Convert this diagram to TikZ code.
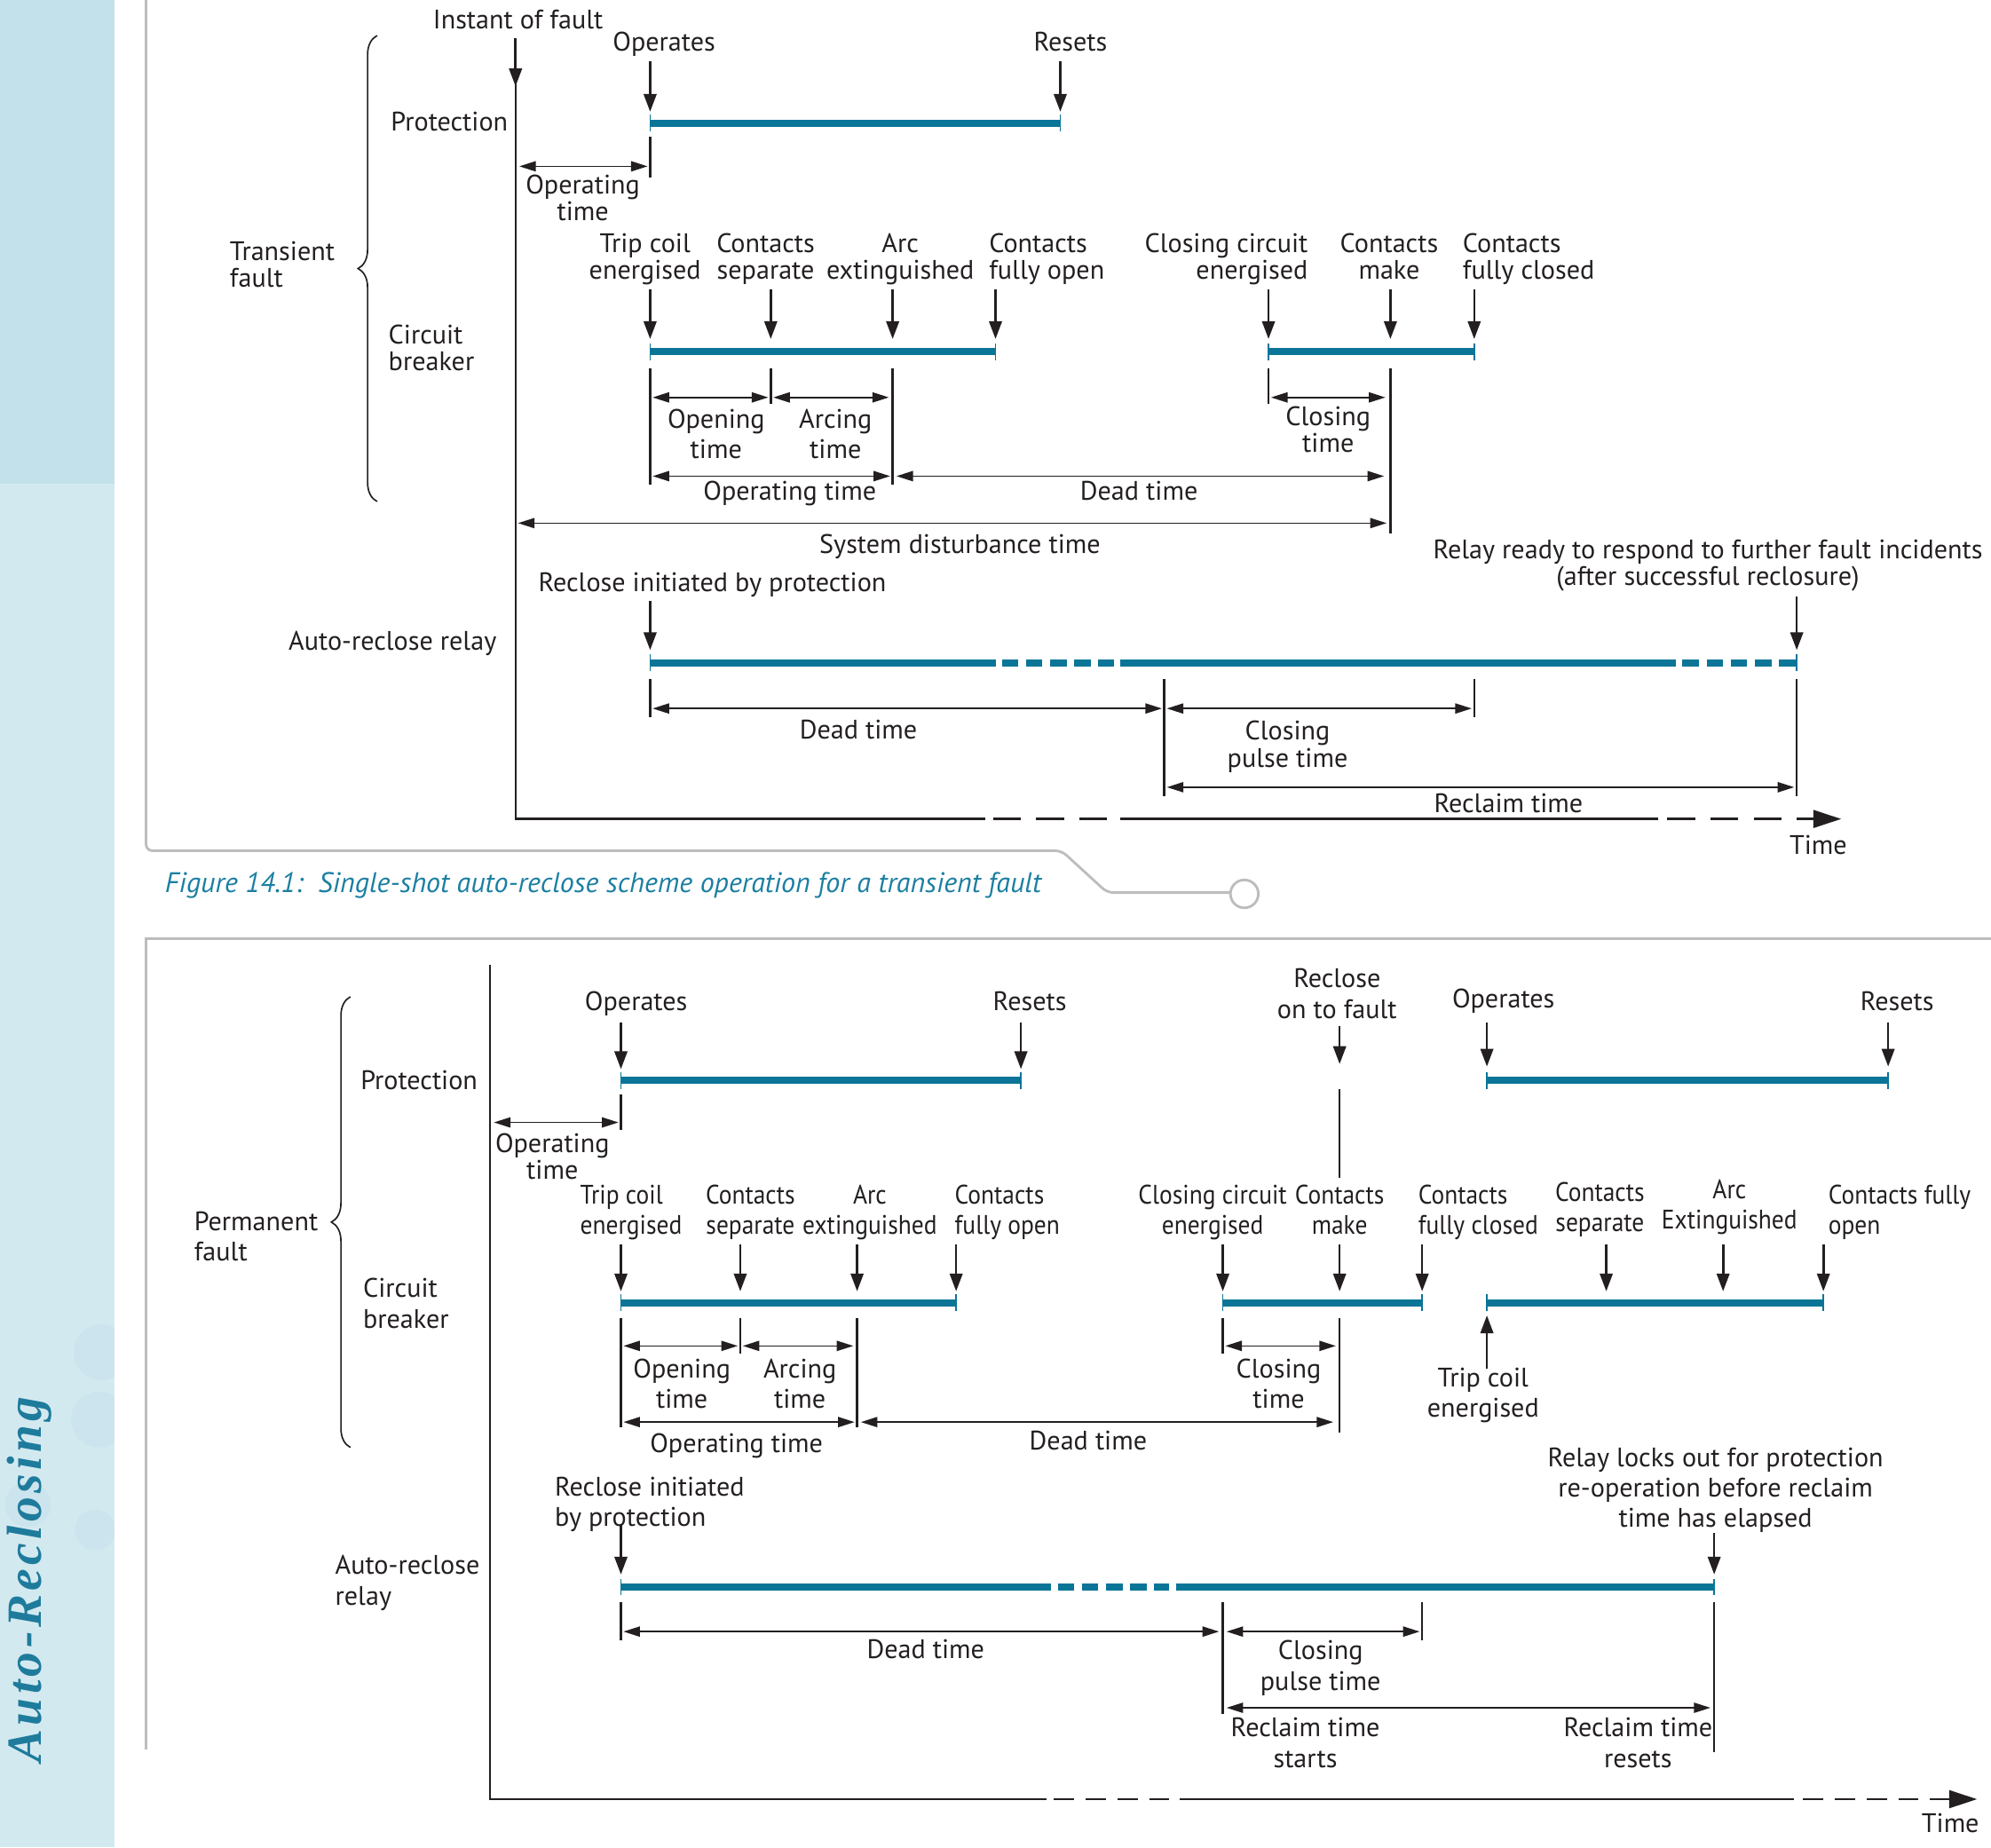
\documentclass[tikz,border=0pt]{standalone}
\usepackage{fontspec}
\usepackage{graphicx}
\setmainfont{PT Sans}
\newfontfamily\condfont{PT Sans}[FakeStretch=0.91]
\newfontfamily\sidefont{Liberation Serif}[LetterSpace=8]
\usetikzlibrary{arrows.meta,decorations.pathreplacing}
\definecolor{tealbar}{HTML}{0B7598}
\definecolor{ink}{HTML}{231F20}
\definecolor{framegrey}{HTML}{BDBDBD}
\definecolor{sideA}{HTML}{C3E1EB}
\definecolor{sideB}{HTML}{D3E9F0}
\definecolor{sidecirc}{HTML}{BFDDE8}
\definecolor{sidetext}{HTML}{1E7B9C}
\definecolor{captxt}{HTML}{1B7FA1}
\newcommand\fs{\rule{0pt}{4.5mm}}
\newcommand\mybar[3]{\draw[tb] (#1,#3) -- (#2,#3); \draw[tk] (#1,#3-6.5) -- (#1,#3+6.5) (#2,#3-6.5) -- (#2,#3+6.5);}
\newcommand\mytick[2]{\draw[tk] (#1,#2-6.5) -- (#1,#2+6.5);}
\newcommand\myevt[3]{\draw[evt] (#1,#2) -- (#1,#3);}
\newcommand\myvl[3]{\draw[vln] (#1,#2) -- (#1,#3);}
\newcommand\mydim[3]{\draw[dimarr] (#1,#3) -- (#2,#3);}
\begin{document}
\begin{tikzpicture}[x=0.3mm,y=-0.3mm,
  every node/.style={inner sep=0pt,outer sep=0pt,text=ink},
  txt/.style={font={\fontsize{18}{17.93}\selectfont},execute at begin node={\fs}},
  lc/.style={txt,anchor=north,align=center},
  ll/.style={txt,anchor=north west,align=left},
  lr/.style={txt,anchor=north east,align=right},
  wide/.style={font={\fontsize{18}{20.49}\selectfont}},
  cond/.style={font={\condfont\fontsize{18}{20.49}\selectfont}},
  evt/.style={draw=ink,line width=0.55mm,-{Triangle[length=4.2mm,width=3mm]}},
  dimarr/.style={draw=ink,line width=0.33mm,{Triangle[length=3.9mm,width=2.4mm]}-{Triangle[length=3.9mm,width=2.4mm]}},
  vln/.style={draw=ink,line width=0.55mm},
  tb/.style={draw=tealbar,line width=1.65mm},
  tbd/.style={tb,dash pattern=on 3.9mm off 1.8mm},
  tk/.style={draw=tealbar,line width=0.35mm},
  tax/.style={draw=ink,line width=0.5mm},
  taxd/.style={tax,dash pattern=on 6.6mm off 3.6mm},
  taxe/.style={tax,dash pattern=on 4.8mm off 2.7mm},
  bigtip/.style={-{Triangle[length=6.6mm,width=4.2mm]}},
  frm/.style={draw=framegrey,line width=0.6mm},
  brc/.style={draw=ink,line width=0.35mm,decorate,decoration={brace,amplitude=4.5mm}}
]
\useasboundingbox (0,0) rectangle (1568,1455);
% ---------- sidebar
\fill[sideA] (0,0) rectangle (90,381);
\fill[sideB] (0,381) rectangle (90,1455);
\begin{scope}
\clip (0,0) rectangle (90,1455);
\fill[sidecirc,opacity=0.35] (80,1065) circle (22) (78,1118) circle (22) (22,1185) circle (18) (75,1205) circle (16);
\end{scope}
\node[rotate=90,text=sidetext,font={\sidefont\bfseries\itshape\fontsize{36}{36}\selectfont}] (side) at (23,1244) {\resizebox{86.4mm}{!}{Auto-Reclosing}};
% ---------- frames
\draw[frm,rounded corners=1.5mm] (115,-5) -- (115,670) -- (836,670) -- (872,703) -- (969,703);
\draw[frm,fill=white] (980,704) circle (11);
\draw[frm] (1575,739) -- (115,739) -- (115,1378);
\node[anchor=west,text=captxt,font={\fontsize{19}{20}\selectfont\itshape}] (cap) at (130,697) {\resizebox{207mm}{\height}{Figure 14.1:\ \ Single-shot auto-reclose scheme operation for a transient fault}};

% ================= TOP FIGURE =================
\draw[brc] (297,395) -- (297,28);
\myevt{406}{30}{68}
\draw[tax] (406,66) -- (406,645) -- (776,645);
\draw[taxd] (782,645) -- (877,645);
\draw[tax] (882,645) -- (1306,645);
\draw[taxd,bigtip] (1313,645) -- (1450,645);
% protection
\myevt{512}{48}{88}
\myevt{835}{48}{88}
\mybar{512}{835}{97}
\myvl{512}{108}{140}
\mydim{409}{510}{131}
% circuit breaker
\myevt{512}{228}{267}
\myevt{607}{228}{267}
\myevt{703}{228}{267}
\myevt{784}{228}{267}
\myevt{999}{228}{267}
\myevt{1095}{228}{267}
\myevt{1161}{228}{267}
\mybar{512}{784}{277}
\mybar{999}{1161}{277}
\myvl{512}{290}{382}
\myvl{607}{290}{318}
\myvl{703}{290}{382}
\myvl{999}{290}{318}
\myvl{1095}{290}{420}
\mydim{514}{605}{313}
\mydim{609}{700}{313}
\mydim{1001}{1091}{313}
\mydim{514}{701}{375}
\mydim{706}{1090}{375}
\mydim{408}{1092}{412}
% auto-reclose relay
\myevt{512}{473}{512}
\myevt{1415}{470}{512}
\draw[tb] (512,522) -- (784,522);
\draw[tbd] (789,522) -- (877,522);
\draw[tb] (882,522) -- (1320,522);
\draw[tbd] (1325,522) -- (1415,522);
\mytick{512}{522}
\mytick{1415}{522}
\myvl{512}{535}{565}
\myvl{917}{535}{627}
\myvl{1161}{535}{565}
\myvl{1415}{535}{627}
\mydim{514}{915}{558}
\mydim{919}{1159}{558}
\mydim{919}{1413}{620}
% labels
\node[lc] (instant) at (408,8) {Instant of fault};
\node[lc] (op1) at (523,25) {Operates};
\node[lc] (rs1) at (843,25) {Resets};
\node[lr] (prot1) at (400,88) {Protection};
\node[lc] (optm1) at (459,138) {Operating\\time};
\node[ll] (trans) at (181,190) {Transient\\fault};
\node[lc] (tc1) at (508,184) {Trip coil\\energised};
\node[lc] (cs1) at (603,184) {Contacts\\separate};
\node[lc] (ae1) at (709,184) {Arc\\extinguished};
\node[ll] (cfo1) at (779,184) {Contacts\\fully open};
\node[lr] (cce1) at (1030,184) {Closing circuit\\energised};
\node[lc] (cm1) at (1094,184) {Contacts\\make};
\node[ll] (cfc1) at (1152,184) {Contacts\\fully closed};
\node[ll] (cb1) at (306,256) {Circuit\\breaker};
\node[lc,wide] (opn1) at (564,322) {Opening\\time};
\node[lc,wide] (arc1) at (658,322) {Arcing\\time};
\node[lc] (cl1) at (1046,320) {Closing\\time};
\node[lc] (optime1) at (622,379) {Operating time};
\node[lc] (dead1) at (897,379) {Dead time};
\node[lc] (sdt) at (756,421) {System disturbance time};
\node[lc] (ready) at (1345,425) {Relay ready to respond to further fault incidents\\(after successful reclosure)};
\node[lc] (rip1) at (561,451) {Reclose initiated by protection};
\node[lr] (arr1) at (391,497) {Auto-reclose relay};
\node[lc] (dead1b) at (676,567) {Dead time};
\node[lc] (cpt1) at (1014,568) {Closing\\pulse time};
\node[lc] (rcl1) at (1188,625) {Reclaim time};
\node[lc] (time1) at (1432,658) {Time};

% ================= BOTTOM FIGURE =================
\draw[brc] (276,1140) -- (276,785);
\draw[tax] (386,760) -- (386,1417) -- (824,1417);
\draw[taxe] (830,1417) -- (924,1417);
\draw[tax] (929,1417) -- (1413,1417);
\draw[taxe,bigtip] (1420,1417) -- (1557,1417);
% protection
\myevt{489}{805}{842}
\myevt{804}{805}{842}
\myevt{1055}{808}{838}
\myvl{1055}{858}{928}
\myevt{1171}{805}{840}
\myevt{1487}{805}{840}
\mybar{489}{804}{851}
\mybar{1171}{1487}{851}
\myvl{489}{862}{890}
\mydim{389}{487}{884}
% circuit breaker
\myevt{489}{980}{1017}
\myevt{583}{980}{1017}
\myevt{675}{980}{1017}
\myevt{753}{980}{1017}
\myevt{963}{980}{1017}
\myevt{1055}{980}{1017}
\myevt{1120}{980}{1017}
\myevt{1265}{980}{1017}
\myevt{1357}{980}{1017}
\myevt{1436}{980}{1017}
\myevt{1171}{1078}{1036}
\mybar{489}{753}{1026}
\mybar{963}{1120}{1026}
\mybar{1171}{1436}{1026}
\myvl{489}{1038}{1124}
\myvl{583}{1038}{1066}
\myvl{675}{1038}{1124}
\myvl{963}{1038}{1066}
\myvl{1055}{1038}{1128}
\mydim{491}{581}{1060}
\mydim{585}{672}{1060}
\mydim{965}{1052}{1060}
\mydim{491}{673}{1120}
\mydim{678}{1050}{1120}
% auto-reclose relay
\myevt{489}{1200}{1240}
\myevt{1350}{1207}{1240}
\draw[tb] (489,1250) -- (828,1250);
\draw[tbd] (833,1250) -- (921,1250);
\draw[tb] (926,1250) -- (1350,1250);
\mytick{489}{1250}
\mytick{1350}{1250}
\myvl{489}{1262}{1292}
\myvl{963}{1262}{1350}
\myvl{1120}{1262}{1292}
\myvl{1350}{1262}{1380}
\mydim{491}{960}{1285}
\mydim{966}{1118}{1285}
\mydim{966}{1347}{1345}
% labels
\node[lc,wide] (op2) at (501,781) {Operates};
\node[lc,wide] (rs2) at (811,781) {Resets};
\node[lc,wide] (rof) at (1053,763) {Reclose\\on to fault};
\node[lc,wide] (op3) at (1184,779) {Operates};
\node[lc,wide] (rs3) at (1494,781) {Resets};
\node[ll,wide] (prot2) at (284,843) {Protection};
\node[lc] (optm2) at (435,893) {Operating\\time};
\node[ll,wide] (perm) at (153,954) {Permanent\\fault};
\node[ll,cond] (tc2) at (457,933) {Trip coil\\energised};
\node[lc,cond] (cs2) at (591,933) {Contacts\\separate};
\node[lc,cond] (ae2) at (685,933) {Arc\\extinguished};
\node[ll,cond] (cfo2) at (752,933) {Contacts\\fully open};
\node[lc,cond] (cce2) at (955,933) {Closing circuit\\energised};
\node[lc,cond] (cm2) at (1055,933) {Contacts\\make};
\node[ll,cond] (cfc2) at (1117,933) {Contacts\\fully closed};
\node[lc,cond] (cs3) at (1260,931) {Contacts\\separate};
\node[lc,cond] (ae3) at (1362,929) {Arc\\Extinguished};
\node[ll,cond] (cfo3) at (1440,933) {Contacts fully\\open};
\node[ll,wide] (cb2) at (286,1007) {Circuit\\breaker};
\node[lc,wide] (opn2) at (537,1070) {Opening\\time};
\node[lc,wide] (arc2) at (630,1070) {Arcing\\time};
\node[lc,wide] (cl2) at (1007,1070) {Closing\\time};
\node[lc,wide] (tc3) at (1168,1077) {Trip coil\\energised};
\node[lc,wide] (optime2) at (580,1129) {Operating time};
\node[lc,wide] (dead2) at (857,1127) {Dead time};
\node[ll,wide] (rip2) at (437,1163) {Reclose initiated\\by protection};
\node[lc,wide] (locks) at (1351,1140) {Relay locks out for protection\\re-operation before reclaim\\time has elapsed};
\node[ll,wide] (arr2) at (264,1225) {Auto-reclose\\relay};
\node[lc,wide] (dead2b) at (729,1291) {Dead time};
\node[lc,wide] (cpt2) at (1040,1292) {Closing\\pulse time};
\node[lc,wide] (rst) at (1028,1353) {Reclaim time\\starts};
\node[lc,wide] (rrs) at (1290,1353) {Reclaim time\\resets};
\node[lc,wide] (time2) at (1536,1428) {Time};
\end{tikzpicture}
\end{document}
